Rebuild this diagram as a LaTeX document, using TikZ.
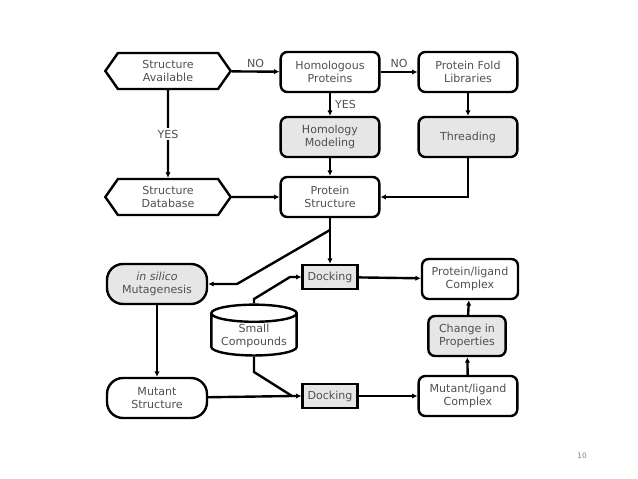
\documentclass[tikz,border=0pt]{standalone}
\usepackage{fontspec}
\setmainfont{DejaVu Sans}
\usetikzlibrary{shapes.symbols,shapes.geometric,arrows.meta}
\definecolor{tx}{HTML}{505050}
\definecolor{fillg}{HTML}{E6E6E6}
\begin{document}
\begin{tikzpicture}[x=0.75pt,y=-0.75pt,
  every node/.style={text=tx,font=\fontsize{8.3}{9.5}\selectfont,align=center,line width=1.8pt,draw=black},
  rbox/.style={rounded corners=5pt,minimum width=74pt,minimum height=30pt,inner sep=1pt},
  gbox/.style={rbox,fill=fillg},
  hexa/.style={signal,signal to=west and east,signal pointer angle=110,minimum width=94pt,minimum height=27pt,inner sep=1pt},
  dock/.style={rectangle,fill=fillg,minimum width=41pt,minimum height=18pt,inner sep=1pt},
  stad/.style={rounded corners=12pt,minimum width=75pt,minimum height=30pt,inner sep=1pt},
  lbl/.style={draw=none,fill=white,inner sep=1pt},
  conn/.style={line width=1.8pt,-{Latex[length=4pt,width=4pt]}},
  plain/.style={line width=1.8pt}]
\useasboundingbox (0,0) rectangle (638,478);
\node[hexa] (sa) at (168,71) {Structure\\Available};
\node[rbox] (hp) at (330,72) {Homologous\\Proteins};
\node[rbox] (pf) at (468,72) {Protein Fold\\Libraries};
\node[gbox] (hm) at (330,137) {Homology\\Modeling};
\node[gbox] (th) at (468,137) {Threading};
\node[hexa] (sd) at (168,197) {Structure\\Database};
\node[rbox] (ps) at (330,197) {Protein\\Structure};
\node[stad,fill=fillg] (mg) at (157,284) {\itshape in silico\\Mutagenesis};
\node[dock] (d1) at (330,277) {Docking};
\node[rbox,minimum width=72pt] (pl) at (470,279) {Protein/ligand\\Complex};
\node[cylinder,shape border rotate=90,aspect=0.25,minimum width=64pt,minimum height=38pt,inner sep=1pt] (sc) at (254,336) {Small\\Compounds};
\node[gbox,minimum width=58pt] (cp) at (467,336) {Change in\\Properties};
\node[stad] (ms) at (157,398) {Mutant\\Structure};
\node[dock] (d2) at (330,396) {Docking};
\node[rbox] (ml) at (468,396) {Mutant/ligand\\Complex};
\node[draw=none,text=gray,font=\fontsize{5.5}{6}\selectfont] (pg) at (582,456) {10};

\draw[conn] (sa) -- node[lbl,above=1pt,fill=none] {NO} (hp);
\draw[conn] (hp) -- node[lbl,above=1pt,fill=none] {NO} (pf);
\draw[conn] (hp) -- node[lbl,right=2pt,fill=none] {YES} (hm);
\draw[conn] (sa) -- node[lbl] {YES} (sd);
\draw[conn] (sd) -- (ps);
\draw[conn] (hm) -- (ps);
\draw[conn] (pf) -- (th);
\draw[conn] (th.south) |- (ps.east);
\draw[conn] (ps) -- (d1);
\coordinate (k1) at (330,230);
\coordinate (k2) at (237,284);
\draw[conn] (k1) -- (k2) -- (mg);
\draw[conn] (d1) -- (pl);
\coordinate (k3) at (254,299);
\coordinate (k4) at (290,277);
\draw[conn] (sc.north) -- (k3) -- (k4) -- (d1);
\coordinate (k5) at (254,372);
\coordinate (k6) at (292,396);
\draw[conn] (sc.south) -- (k5) -- (k6) -- (d2);
\draw[conn] (mg) -- (ms);
\draw[plain] (ms) -- (k6);
\draw[conn] (d2) -- (ml);
\draw[conn] (ml) -- (cp);
\draw[conn] (cp) -- (pl);
\end{tikzpicture}
\end{document}
